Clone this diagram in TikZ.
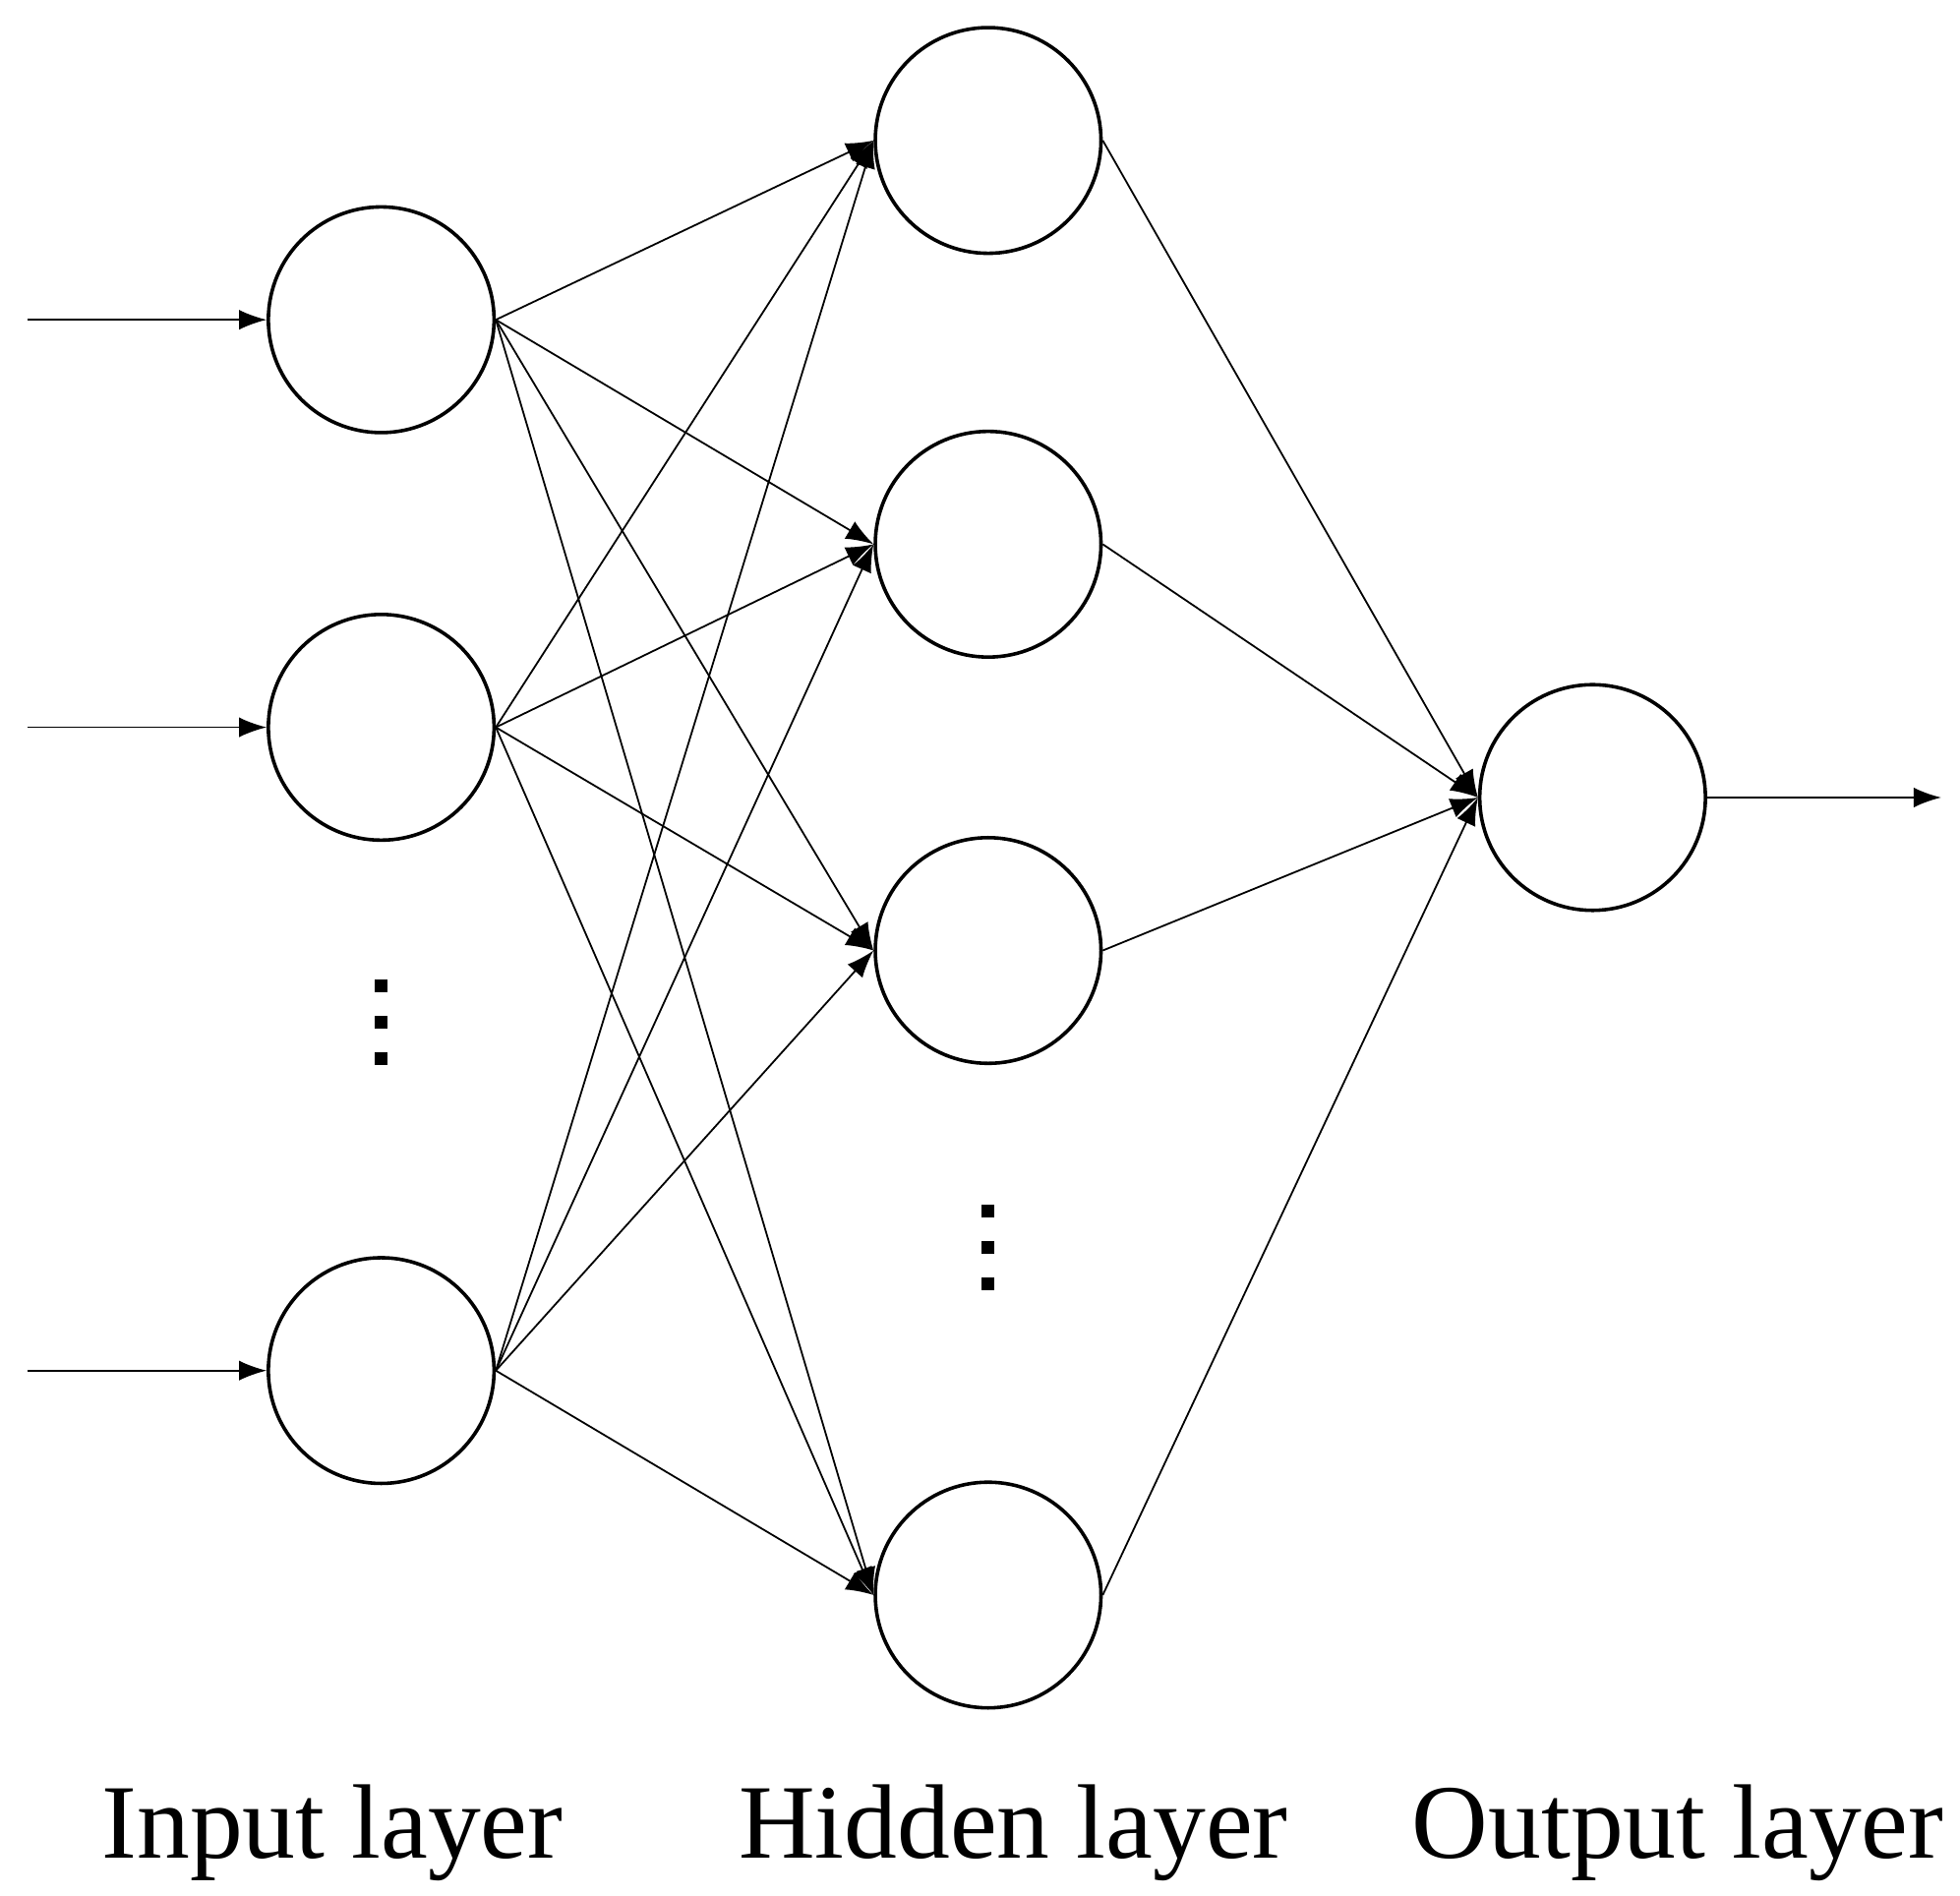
\documentclass[tikz,border=0pt]{standalone}
\usepackage{fontspec}
\setmainfont{Liberation Serif}
\usetikzlibrary{arrows.meta}
\begin{document}
\begin{tikzpicture}[x=1cm,y=-1cm,
  neuron/.style={circle,draw,thick,minimum size=1.8cm,inner sep=0pt},
  conn/.style={thin,-{Latex[length=2.2mm,width=1.6mm]}},
  every label/.style={font=\fontsize{24}{28}\selectfont}]

  \useasboundingbox (0,0) rectangle (15.63,15.12);

  % input layer
  \node[neuron] (i1) at (3.04,2.55) {};
  \node[neuron] (i2) at (3.04,5.80) {};
  \node[neuron] (i3) at (3.04,10.93) {};

  % hidden layer
  \node[neuron] (h1) at (7.88,1.12) {};
  \node[neuron] (h2) at (7.88,4.34) {};
  \node[neuron] (h3) at (7.88,7.58) {};
  \node[neuron] (h4) at (7.88,12.72) {};

  % output layer
  \node[neuron] (o) at (12.70,6.36) {};

  % dots
  \foreach \x/\y in {3.04/8.15, 7.88/9.95}
    \foreach \d in {-0.29,0,0.29}
      \fill (\x-0.05,\y+\d-0.05) rectangle (\x+0.05,\y+\d+0.05);

  % inputs and output
  \coordinate (a1) at (0.22,2.55);
  \coordinate (a2) at (0.22,5.80);
  \coordinate (a3) at (0.22,10.93);
  \coordinate (out) at (15.48,6.36);
  \foreach \k in {1,2,3}
    \draw[conn] (a\k) -- (i\k);
  \draw[conn] (o) -- (out);

  % connections
  \foreach \i in {1,2,3}
    \foreach \h in {1,2,3,4}
      \draw[conn] (i\i.east) -- (h\h.west);
  \foreach \h in {1,2,3,4}
    \draw[conn] (h\h.east) -- (o.west);

  % labels
  \node[font=\fontsize{24}{28}\selectfont] (li) at (2.65,14.62) {Input layer};
  \node[font=\fontsize{24}{28}\selectfont] (lh) at (8.08,14.62) {Hidden layer};
  \node[font=\fontsize{24}{28}\selectfont] (lo) at (13.38,14.62) {Output layer};
\end{tikzpicture}
\end{document}
